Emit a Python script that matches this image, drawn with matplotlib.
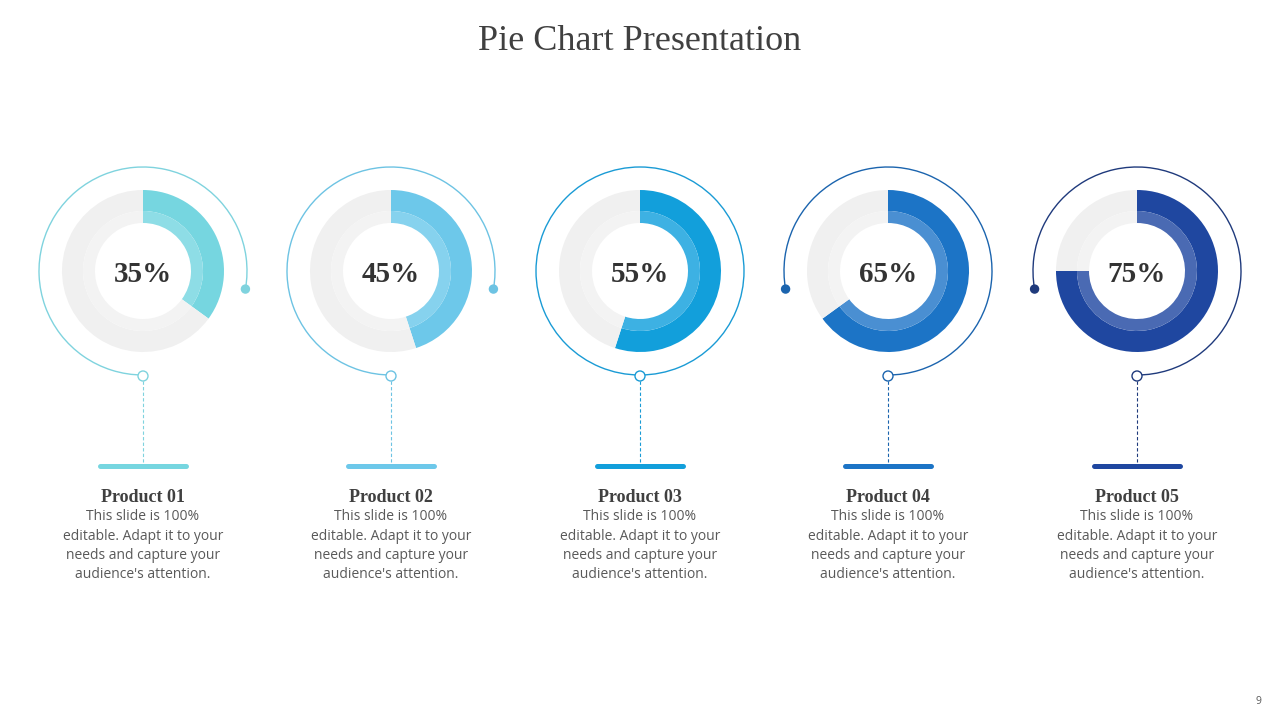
import numpy as np
import matplotlib.pyplot as plt
from matplotlib.patches import Arc, Circle

# data
products = ["Product 01", "Product 02", "Product 03", "Product 04", "Product 05"]
values = [35, 45, 55, 65, 75]
colors = ["#76D6E0", "#6DC8EA", "#129FDB", "#1C74C6", "#1F47A0"]
inner_colors = ["#8EDDE6", "#86D2EE", "#3DB1E3", "#4A8FD2", "#4A6AB3"]
arc_colors = ["#7FD3DE", "#6DC3E3", "#1A9BD5", "#1B64AE", "#1F3A7C"]
body = ["This slide is 100%", "editable. Adapt it to your",
        "needs and capture your", "audience's attention."]
title = "Pie Chart Presentation"

W, H = 1280, 720
cx = [143, 391, 640, 888, 1137]
cy = H - 271

fig = plt.figure(figsize=(12.8, 7.2), dpi=100)
ax = fig.add_axes([0, 0, 1, 1])

SERIF = ["Liberation Serif", "DejaVu Serif"]
SANS = ["Open Sans", "DejaVu Sans"]

for i, v in enumerate(values):
    c = (cx[i], cy)
    # main donut
    ax.pie([v, 100 - v], colors=[colors[i], "#F0F0F0"], radius=81, center=c,
           startangle=90, counterclock=False,
           wedgeprops=dict(width=21, linewidth=0))
    # lighter inner band
    ax.pie([v, 100 - v], colors=[inner_colors[i], "#F3F3F3"], radius=60, center=c,
           startangle=90, counterclock=False,
           wedgeprops=dict(width=12, linewidth=0))
    ax.text(cx[i], cy - 3, f"{v}%", ha="center", va="center", fontsize=21,
            fontweight="bold", color="#333333", family=SERIF)

    # outer thin arc
    if i < 2:
        t1, t2, end = -10, 270, -10
    elif i == 2:
        t1, t2, end = 0, 360, None
    else:
        t1, t2, end = -90, 190, 190
    ax.add_patch(Arc(c, 208, 208, theta1=t1, theta2=t2, color=arc_colors[i], lw=1.0))
    if end is not None:
        a = np.radians(end)
        ax.add_patch(Circle((cx[i] + 104 * np.cos(a), cy + 104 * np.sin(a)), 4,
                            color=arc_colors[i], zorder=5))
    ax.add_patch(Circle((cx[i], cy - 105), 5, facecolor="white",
                        edgecolor=arc_colors[i], lw=1.0, zorder=5))

    # dashed connector and bar
    ax.plot([cx[i], cx[i]], [cy - 110, H - 462], ls=(0, (3, 2)), lw=0.8,
            color=arc_colors[i])
    ax.plot([cx[i] - 43, cx[i] + 43], [H - 466, H - 466], lw=3.6,
            solid_capstyle="round", color=colors[i])

    ax.text(cx[i], H - 498, products[i], ha="center", va="center", fontsize=13,
            fontweight="bold", color="#404040", family=SERIF)
    for j, line in enumerate(body):
        ax.text(cx[i], H - 517 - 19.3 * j, line, ha="center", va="center",
                fontsize=10, color="#595959", family=SANS)

ax.text(W / 2, H - 42, title, ha="center", va="center", fontsize=26,
        color="#404040", family=SERIF)
ax.text(1258, H - 701, "9", ha="center", va="center", fontsize=7.5,
        color="#595959", family=SANS)

ax.set_xlim(0, W)
ax.set_ylim(0, H)
ax.set_aspect("auto")
ax.axis("off")

fig.savefig("out.png", dpi=100, facecolor="white")
